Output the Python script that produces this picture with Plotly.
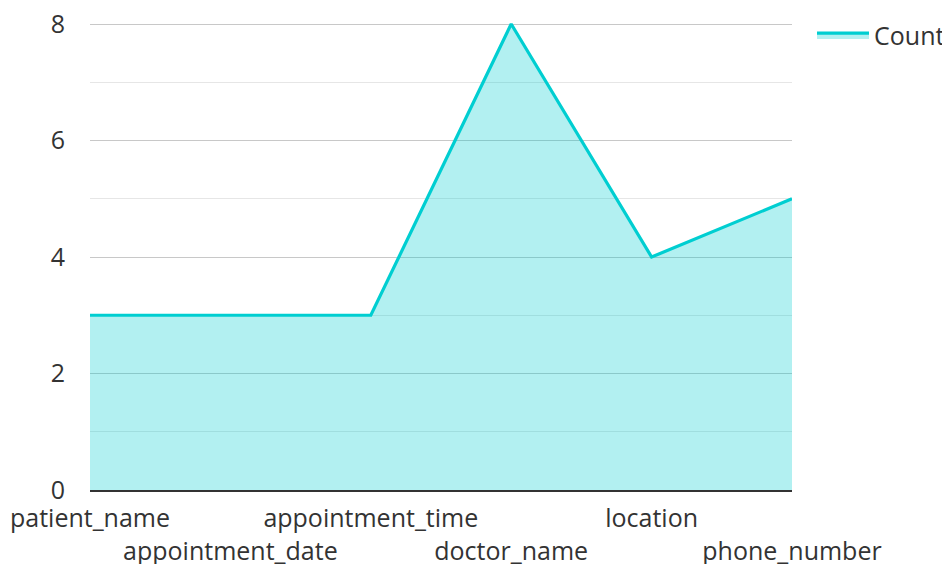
import plotly.graph_objects as go

categories = ["patient_name", "appointment_date", "appointment_time", "doctor_name", "location", "phone_number"]
counts = [3, 3, 3, 8, 4, 5]
series_name = "Count"

tick_text = [c if i % 2 == 0 else "<br>" + c for i, c in enumerate(categories)]

fig = go.Figure()
fig.add_trace(go.Scatter(
    x=categories, y=counts, name=series_name, mode="lines",
    line=dict(color="#00CED1", width=3.2),
    fill="tozeroy", fillcolor="rgba(0,206,209,0.3)",
))

fig.update_layout(
    width=942, height=556,
    margin=dict(l=82, r=158, t=14, b=74, autoexpand=False),
    paper_bgcolor="white", plot_bgcolor="white",
    font=dict(family="Open Sans", size=25, color="#333"),
    showlegend=True,
    legend=dict(x=1.0285, y=1.0206, xanchor="left", yanchor="top", font=dict(size=25, color="#333"),
                bgcolor="rgba(0,0,0,0)", itemwidth=52),
    xaxis=dict(
        type="category", range=[0, 5], showgrid=False, zeroline=False,
        tickmode="array", tickvals=categories, ticktext=tick_text,
        showline=True, linecolor="#333", linewidth=2,
        tickangle=0, layer="above traces", automargin=False,
        ticklabelstandoff=5, ticklabeloverflow="allow",
        tickfont=dict(size=25, color="#333"),
    ),
    yaxis=dict(
        range=[0, 8.035], tickmode="array", tickvals=[0, 2, 4, 6, 8],
        showgrid=True, gridcolor="#c8c8c8", gridwidth=1,
        zeroline=False, showline=False,
        minor=dict(tickmode="array", tickvals=[1, 3, 5, 7], showgrid=True, gridcolor="#e6e6e6", gridwidth=1),
        ticklabelstandoff=24, layer="above traces", automargin=False,
        ticklabeloverflow="allow",
        tickfont=dict(size=25, color="#333"),
    ),
)

fig.write_html("out.html")
